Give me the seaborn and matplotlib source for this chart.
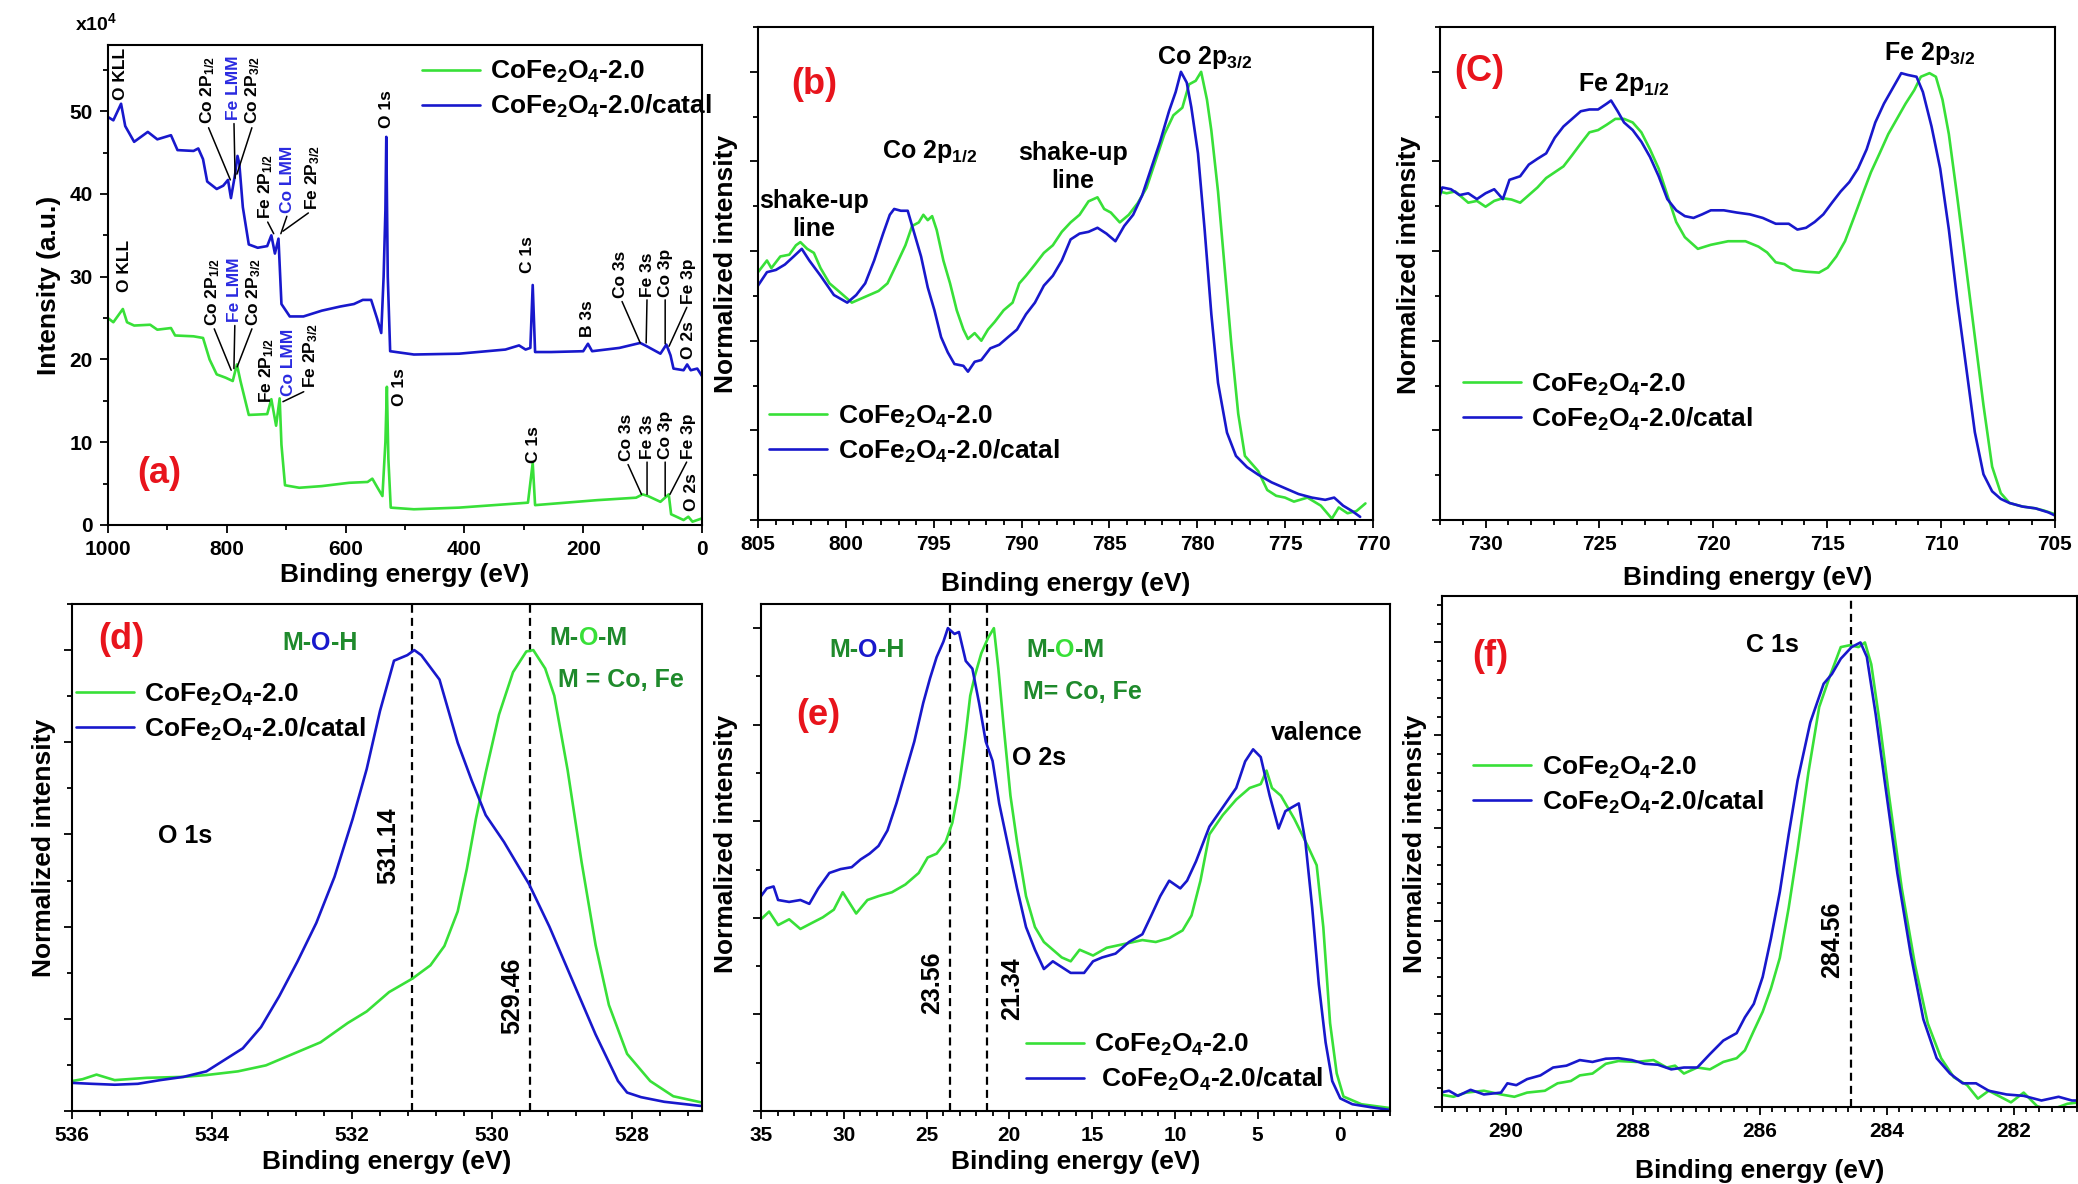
import numpy as np
import pandas as pd
import seaborn as sns
import matplotlib.pyplot as plt
from matplotlib.ticker import MultipleLocator

GREEN = "#38e038"
BLUE = "#1818cc"
BLUE_TXT = "#2a2ae0"
DKGREEN = "#1f8a2c"
RED = "#e8141c"
LAB_FRESH = "CoFe$_2$O$_4$-2.0"
LAB_CATAL = "CoFe$_2$O$_4$-2.0/catal"

# ---- (a) survey spectra, intensity in 1e4 counts
a_be_fresh = [1000, 991, 975, 968, 956, 929, 917, 894, 887, 856, 840, 829, 817, 802, 790, 783, 777,
              763, 732, 725, 717, 711, 708, 702, 678, 640, 594, 563, 555, 547, 538, 533, 530.5, 528,
              524, 485, 409, 331, 293, 285, 281, 177, 111, 100, 91, 70, 56, 52, 31, 23, 16, 0]
a_int_fresh = [25.0, 24.5, 26.1, 24.5, 24.1, 24.2, 23.6, 23.8, 22.9, 22.8, 22.6, 20.0, 18.2, 17.8, 17.4,
               19.4, 17.4, 13.3, 13.4, 15.2, 12.0, 15.3, 9.7, 4.8, 4.5, 4.7, 5.1, 5.2, 5.6, 4.6, 3.5,
               10.0, 16.7, 8.0, 2.1, 1.9, 2.1, 2.5, 2.7, 7.5, 2.4, 3.0, 3.3, 3.7, 3.5, 2.8, 3.7, 1.3,
               0.6, 1.0, 0.4, 0.8]
a_be_catal = [1000, 991, 978, 971, 956, 933, 917, 894, 883, 856, 848, 840, 833, 817, 806, 798, 793,
              786, 782, 779, 773, 763, 748, 732, 725, 719, 713, 708, 694, 671, 640, 609, 586, 571,
              557, 547, 540, 536, 533, 531.5, 529, 525, 485, 409, 331, 308, 297, 289, 285, 281, 254,
              200, 192, 185, 139, 104, 93, 70, 60, 53, 48, 31, 25, 19, 8, 0]
a_int_catal = [49.3, 48.9, 50.9, 48.2, 46.3, 47.5, 46.6, 47.1, 45.3, 45.2, 45.5, 44.2, 41.5, 40.6, 41.0,
               41.7, 39.5, 42.4, 44.6, 43.7, 38.4, 33.9, 33.5, 33.7, 35.0, 32.8, 34.6, 26.7, 25.2, 25.2,
               25.9, 26.4, 26.7, 27.2, 27.2, 24.95, 23.2, 30.0, 38.0, 46.9, 30.0, 21.0, 20.6, 20.7,
               21.2, 21.7, 21.2, 21.4, 29.0, 20.9, 20.9, 21.0, 21.9, 21.0, 21.4, 22.0, 21.6, 20.7,
               21.8, 20.5, 18.9, 18.7, 19.4, 18.7, 18.9, 18.0]

# ---- (b) Co 2p
b_be_fresh = [805.00, 804.49, 804.24, 803.73, 803.22, 802.84, 802.59, 802.20, 801.82, 801.44, 800.93,
              800.42, 799.66, 798.90, 798.14, 797.63, 797.12, 796.61, 796.23, 795.85, 795.59, 795.34,
              795.09, 794.83, 794.45, 794.07, 793.69, 793.31, 793.05, 792.67, 792.29, 791.91, 791.53,
              791.02, 790.51, 790.13, 789.75, 789.24, 788.73, 788.22, 787.71, 787.21, 786.70, 786.19,
              785.68, 785.30, 784.92, 784.41, 783.90, 783.39, 782.89, 782.38, 781.87, 781.36, 780.85,
              780.47, 780.09, 779.78, 779.45, 779.20, 778.82, 778.44, 778.06, 777.67, 777.29, 776.91,
              776.53, 776.02, 775.51, 775.01, 774.50, 773.73, 772.97, 772.34, 771.95, 771.45, 770.94,
              770.43]
b_int_fresh = [0.553, 0.579, 0.562, 0.588, 0.592, 0.613, 0.620, 0.605, 0.596, 0.562, 0.528, 0.511,
               0.485, 0.498, 0.511, 0.528, 0.570, 0.613, 0.656, 0.664, 0.681, 0.669, 0.678, 0.647,
               0.579, 0.528, 0.468, 0.425, 0.404, 0.417, 0.400, 0.425, 0.442, 0.468, 0.485, 0.528,
               0.545, 0.570, 0.596, 0.613, 0.643, 0.664, 0.681, 0.711, 0.720, 0.694, 0.686, 0.664,
               0.681, 0.707, 0.741, 0.801, 0.861, 0.903, 0.920, 0.972, 0.980, 1.000, 0.938, 0.869,
               0.733, 0.562, 0.391, 0.237, 0.143, 0.126, 0.109, 0.067, 0.054, 0.050, 0.041, 0.050,
               0.032, 0.003, 0.028, 0.015, 0.020, 0.037]
b_be_catal = [805.00, 804.49, 803.98, 803.47, 802.97, 802.51, 802.08, 801.44, 800.68, 799.92, 799.41,
              798.90, 798.39, 797.88, 797.50, 797.25, 796.87, 796.48, 796.10, 795.72, 795.34, 794.96,
              794.58, 794.20, 793.82, 793.31, 793.05, 792.67, 792.29, 791.78, 791.27, 790.77, 790.26,
              789.75, 789.24, 788.73, 788.22, 787.71, 787.21, 786.70, 786.19, 785.68, 785.17, 784.66,
              784.16, 783.65, 783.14, 782.63, 782.12, 781.61, 781.23, 780.93, 780.60, 780.34, 779.96,
              779.58, 779.20, 778.82, 778.31, 777.80, 777.17, 776.53, 775.77, 775.01, 774.24, 773.48,
              772.72, 772.21, 771.70, 771.19, 770.73]
b_int_catal = [0.523, 0.553, 0.558, 0.570, 0.588, 0.605, 0.579, 0.545, 0.502, 0.485, 0.502, 0.528,
               0.579, 0.639, 0.681, 0.694, 0.690, 0.690, 0.639, 0.588, 0.519, 0.468, 0.408, 0.374,
               0.348, 0.344, 0.331, 0.353, 0.357, 0.383, 0.391, 0.408, 0.425, 0.459, 0.485, 0.523,
               0.545, 0.579, 0.626, 0.639, 0.643, 0.652, 0.639, 0.622, 0.656, 0.681, 0.724, 0.784,
               0.844, 0.912, 0.955, 1.000, 0.976, 0.921, 0.818, 0.647, 0.459, 0.306, 0.195, 0.143,
               0.118, 0.101, 0.084, 0.071, 0.058, 0.050, 0.045, 0.050, 0.032, 0.020, 0.007]

# ---- (c) Fe 2p
c_be_fresh = [732.03, 731.71, 731.33, 730.76, 730.38, 730.00, 729.62, 729.24, 728.86, 728.48, 728.10,
              727.72, 727.34, 726.96, 726.58, 726.20, 725.82, 725.44, 725.06, 724.68, 724.30, 723.92,
              723.54, 723.16, 722.78, 722.40, 722.02, 721.63, 721.25, 720.68, 720.11, 719.35, 718.59,
              718.02, 717.64, 717.26, 716.88, 716.50, 715.93, 715.36, 714.98, 714.60, 714.22, 713.84,
              713.46, 713.08, 712.70, 712.32, 711.94, 711.56, 711.18, 710.89, 710.51, 710.23, 709.94,
              709.66, 709.28, 708.90, 708.52, 708.14, 707.76, 707.38, 707.00, 706.43, 705.86, 705.48,
              705.00]
c_int_fresh = [0.733, 0.729, 0.733, 0.708, 0.712, 0.699, 0.712, 0.718, 0.715, 0.708, 0.725, 0.742,
               0.763, 0.776, 0.789, 0.814, 0.840, 0.865, 0.870, 0.882, 0.895, 0.895, 0.887, 0.865,
               0.827, 0.784, 0.725, 0.665, 0.631, 0.605, 0.614, 0.622, 0.622, 0.610, 0.597, 0.575,
               0.571, 0.558, 0.554, 0.552, 0.563, 0.588, 0.622, 0.673, 0.725, 0.776, 0.818, 0.861,
               0.895, 0.929, 0.959, 0.989, 0.997, 0.989, 0.938, 0.861, 0.716, 0.563, 0.409, 0.256,
               0.119, 0.060, 0.038, 0.030, 0.026, 0.021, 0.013]
c_be_catal = [732.03, 731.90, 731.52, 731.14, 730.76, 730.38, 730.00, 729.62, 729.24, 728.95, 728.48,
              728.10, 727.72, 727.34, 726.96, 726.58, 726.20, 725.82, 725.44, 725.06, 724.68, 724.49,
              724.20, 723.92, 723.54, 723.16, 722.78, 722.40, 722.02, 721.63, 721.25, 720.87, 720.49,
              720.11, 719.54, 718.97, 718.40, 717.83, 717.26, 716.69, 716.31, 715.93, 715.55, 715.17,
              714.79, 714.41, 714.03, 713.65, 713.27, 712.89, 712.51, 712.13, 711.75, 711.46, 711.08,
              710.80, 710.42, 710.04, 709.66, 709.28, 708.90, 708.52, 708.14, 707.76, 707.38, 707.00,
              706.43, 705.86, 705.29, 705.00]
c_int_catal = [0.720, 0.742, 0.738, 0.725, 0.729, 0.716, 0.729, 0.738, 0.716, 0.759, 0.767, 0.793,
               0.806, 0.818, 0.853, 0.878, 0.895, 0.912, 0.916, 0.916, 0.929, 0.936, 0.912, 0.887,
               0.870, 0.844, 0.810, 0.767, 0.716, 0.691, 0.678, 0.674, 0.682, 0.691, 0.691, 0.686,
               0.682, 0.674, 0.661, 0.661, 0.648, 0.652, 0.665, 0.682, 0.708, 0.733, 0.754, 0.784,
               0.827, 0.887, 0.929, 0.963, 0.997, 0.993, 0.989, 0.955, 0.878, 0.784, 0.648, 0.486,
               0.341, 0.196, 0.102, 0.064, 0.047, 0.038, 0.030, 0.026, 0.017, 0.010]

# ---- (d) O 1s
d_be_fresh = [536.00, 535.85, 535.65, 535.39, 534.93, 534.41, 534.08, 533.63, 533.23, 532.84, 532.45,
              532.06, 531.79, 531.47, 531.14, 530.88, 530.68, 530.49, 530.36, 530.23, 530.09, 529.90,
              529.70, 529.51, 529.41, 529.24, 529.11, 528.92, 528.72, 528.52, 528.33, 528.07, 527.74,
              527.41, 527.02]
d_int_fresh = [0.065, 0.069, 0.079, 0.067, 0.072, 0.074, 0.078, 0.086, 0.099, 0.124, 0.149, 0.191,
               0.216, 0.258, 0.287, 0.316, 0.358, 0.433, 0.525, 0.634, 0.734, 0.860, 0.952, 0.997,
               1.000, 0.960, 0.901, 0.740, 0.540, 0.360, 0.230, 0.124, 0.065, 0.032, 0.019]
d_be_catal = [536.00, 535.72, 535.39, 535.06, 534.74, 534.41, 534.08, 533.82, 533.56, 533.30, 533.04,
              532.78, 532.51, 532.25, 531.99, 531.79, 531.60, 531.40, 531.21, 531.11, 531.01, 530.75,
              530.49, 530.29, 530.09, 529.83, 529.47, 529.18, 528.85, 528.52, 528.20, 528.07, 527.87,
              527.54, 527.02]
d_int_catal = [0.061, 0.059, 0.057, 0.059, 0.067, 0.074, 0.086, 0.111, 0.136, 0.182, 0.249, 0.324,
               0.408, 0.508, 0.634, 0.742, 0.868, 0.977, 0.989, 1.000, 0.989, 0.936, 0.799, 0.717,
               0.642, 0.584, 0.492, 0.400, 0.283, 0.166, 0.065, 0.040, 0.030, 0.020, 0.011]

# ---- (e) O 2s / valence band
e_be_fresh = [35.00, 34.51, 33.97, 33.30, 32.62, 31.95, 31.27, 30.60, 30.06, 29.25, 28.57, 27.90, 27.09,
              26.28, 25.47, 24.93, 24.39, 23.85, 23.44, 23.04, 22.63, 22.36, 22.09, 21.69, 21.28, 20.93,
              20.66, 20.34, 19.93, 19.53, 18.99, 18.45, 17.91, 17.37, 16.83, 16.29, 15.75, 14.94, 14.12,
              13.04, 11.96, 11.15, 10.34, 9.53, 8.99, 8.45, 7.91, 7.10, 6.29, 5.48, 4.81, 4.46, 4.13,
              3.59, 2.78, 1.97, 1.43, 1.03, 0.62, 0.22, -0.19, -1.27, -3.02]
e_int_fresh = [0.397, 0.413, 0.385, 0.397, 0.377, 0.389, 0.401, 0.417, 0.453, 0.409, 0.437, 0.445,
               0.453, 0.469, 0.493, 0.525, 0.533, 0.557, 0.597, 0.669, 0.781, 0.860, 0.900, 0.948,
               0.980, 1.000, 0.916, 0.797, 0.653, 0.557, 0.445, 0.381, 0.350, 0.334, 0.318, 0.310,
               0.334, 0.322, 0.338, 0.346, 0.354, 0.350, 0.358, 0.374, 0.405, 0.477, 0.573, 0.613,
               0.645, 0.669, 0.677, 0.705, 0.669, 0.653, 0.605, 0.549, 0.509, 0.381, 0.182, 0.078,
               0.030, 0.014, 0.006]
e_be_catal = [35.00, 34.65, 34.24, 33.97, 33.30, 32.62, 32.08, 31.54, 30.87, 30.19, 29.52, 28.98, 28.44,
              27.90, 27.36, 26.82, 26.28, 25.74, 25.20, 24.79, 24.39, 23.98, 23.71, 23.31, 23.04, 22.63,
              22.23, 21.82, 21.42, 21.01, 20.61, 20.07, 19.53, 18.99, 18.45, 17.91, 17.37, 16.83, 16.29,
              15.48, 14.94, 14.39, 13.58, 12.77, 11.96, 11.42, 10.88, 10.34, 9.67, 9.26, 8.72, 7.91,
              7.10, 6.29, 5.75, 5.27, 4.81, 4.27, 3.73, 3.32, 2.92, 2.51, 2.11, 1.70, 1.30, 0.89, 0.49,
              0.00, -0.73, -1.81, -3.02]
e_int_catal = [0.445, 0.461, 0.465, 0.437, 0.433, 0.437, 0.429, 0.461, 0.493, 0.501, 0.505, 0.521,
               0.533, 0.549, 0.581, 0.637, 0.701, 0.765, 0.845, 0.896, 0.940, 0.972, 1.000, 0.988,
               0.992, 0.932, 0.916, 0.844, 0.765, 0.725, 0.637, 0.549, 0.461, 0.381, 0.334, 0.294,
               0.310, 0.298, 0.286, 0.286, 0.310, 0.318, 0.326, 0.350, 0.366, 0.405, 0.445, 0.477,
               0.461, 0.477, 0.517, 0.589, 0.629, 0.669, 0.724, 0.749, 0.733, 0.653, 0.585, 0.621,
               0.629, 0.637, 0.557, 0.421, 0.262, 0.142, 0.062, 0.026, 0.014, 0.008, 0.002]

# ---- (f) C 1s
f_be_fresh = [291.03, 290.82, 290.62, 290.34, 290.07, 289.86, 289.66, 289.38, 289.18, 288.97, 288.83,
              288.63, 288.42, 288.22, 287.94, 287.67, 287.46, 287.33, 287.19, 286.98, 286.78, 286.57,
              286.36, 286.23, 286.09, 285.95, 285.82, 285.68, 285.54, 285.40, 285.23, 285.06, 284.89,
              284.72, 284.58, 284.44, 284.34, 284.24, 284.10, 283.96, 283.76, 283.55, 283.35, 283.14,
              282.94, 282.73, 282.56, 282.39, 282.04, 281.84, 281.63, 281.43, 281.15, 280.96]
f_int_fresh = [0.027, 0.022, 0.031, 0.035, 0.027, 0.022, 0.031, 0.035, 0.051, 0.056, 0.068, 0.072,
               0.093, 0.099, 0.097, 0.101, 0.085, 0.089, 0.072, 0.085, 0.081, 0.097, 0.105, 0.122,
               0.164, 0.205, 0.255, 0.321, 0.429, 0.554, 0.720, 0.861, 0.928, 0.990, 0.994, 0.990,
               1.000, 0.953, 0.820, 0.670, 0.471, 0.305, 0.180, 0.105, 0.064, 0.047, 0.018, 0.035,
               0.010, 0.031, 0.002, -0.007, 0.007, 0.010]
f_be_catal = [291.03, 290.89, 290.75, 290.55, 290.34, 290.07, 289.97, 289.83, 289.66, 289.45, 289.25,
              289.04, 288.83, 288.63, 288.42, 288.22, 288.01, 287.81, 287.60, 287.39, 287.19, 286.98,
              286.78, 286.57, 286.36, 286.23, 286.09, 285.95, 285.82, 285.68, 285.54, 285.40, 285.20,
              284.99, 284.86, 284.72, 284.55, 284.41, 284.31, 284.17, 284.03, 283.83, 283.62, 283.42,
              283.21, 283.00, 282.80, 282.59, 282.39, 282.11, 281.84, 281.56, 281.29, 281.08, 280.96]
f_int_catal = [0.031, 0.035, 0.024, 0.037, 0.027, 0.031, 0.051, 0.047, 0.060, 0.068, 0.085, 0.089,
               0.101, 0.097, 0.104, 0.105, 0.101, 0.093, 0.091, 0.081, 0.085, 0.085, 0.114, 0.143,
               0.159, 0.193, 0.222, 0.280, 0.363, 0.463, 0.587, 0.703, 0.828, 0.911, 0.932, 0.965,
               0.990, 1.000, 0.969, 0.845, 0.703, 0.504, 0.330, 0.189, 0.105, 0.072, 0.051, 0.051,
               0.035, 0.027, 0.024, 0.014, 0.022, 0.014, 0.014]

# peak labels of the survey: (text, x, y of text bottom, leader end x, leader end y, colour)
a_labels_catal = [
    ("O KLL", 979, 51.3, None, None, "k"),
    ("Co 2P$_{1/2}$", 833, 48.4, 794, 41.7, "k"),
    ("Fe LMM", 788, 48.9, 786, 41.9, BLUE_TXT),
    ("Co 2P$_{3/2}$", 756, 48.4, 783, 42.4, "k"),
    ("Fe 2P$_{1/2}$", 734, 37.0, 721, 35.2, "k"),
    ("Co LMM", 697, 37.7, 709, 35.2, BLUE_TXT),
    ("Fe 2P$_{3/2}$", 655, 38.1, 705.5, 35.5, "k"),
    ("O 1s", 530.5, 48.0, None, None, "k"),
    ("C 1s", 293, 30.4, None, None, "k"),
    ("B 3s", 193, 22.7, None, None, "k"),
    ("Co 3s", 137, 27.4, 104, 22.0, "k"),
    ("Fe 3s", 92.5, 27.6, 94, 22.0, "k"),
    ("Co 3p", 62, 27.6, 62, 21.9, "k"),
    ("Fe 3p", 23, 26.7, 55.5, 21.6, "k"),
    ("O 2s", 23, 20.0, None, None, "k"),
]
a_labels_fresh = [
    ("O KLL", 973, 28.1, None, None, "k"),
    ("Co 2P$_{1/2}$", 823.4, 24.1, 792.6, 18.7, "k"),
    ("Fe LMM", 786.4, 24.5, 788, 18.9, BLUE_TXT),
    ("Co 2P$_{3/2}$", 755.6, 24.1, 782.6, 19.1, "k"),
    ("Fe 2P$_{1/2}$", 732.5, 14.7, None, None, "k"),
    ("Co LMM", 695.5, 15.6, None, None, BLUE_TXT),
    ("Fe 2P$_{3/2}$", 659, 16.5, 705.5, 14.9, "k"),
    ("O 1s", 509, 14.4, None, None, "k"),
    ("C 1s", 283, 7.5, None, None, "k"),
    ("Co 3s", 127, 7.7, 101.8, 3.7, "k"),
    ("Fe 3s", 92.5, 8.0, 92.5, 3.7, "k"),
    ("Co 3p", 62, 8.0, 62, 3.5, "k"),
    ("Fe 3p", 23, 8.0, 54, 3.7, "k"),
    ("O 2s", 17.7, 1.7, None, None, "k"),
]

d_peaks = [531.14, 529.46]
e_peaks = [23.56, 21.34]
f_peaks = [284.56]


sns.set_style("ticks", {"axes.edgecolor": "black", "xtick.color": "black", "ytick.color": "black",
                        "text.color": "black", "axes.labelcolor": "black"})
plt.rcParams["font.family"] = ["Liberation Sans", "DejaVu Sans"]
plt.rcParams["font.weight"] = "bold"
plt.rcParams["axes.labelweight"] = "bold"
plt.rcParams["mathtext.fontset"] = "custom"
plt.rcParams["mathtext.rm"] = "Liberation Sans:bold"
plt.rcParams["mathtext.it"] = "Liberation Sans:bold"
plt.rcParams["mathtext.bf"] = "Liberation Sans:bold"
plt.rcParams["mathtext.default"] = "rm"

W, H = 2078, 1184
fig = plt.figure(figsize=(W / 100, H / 100), dpi=100)


def make_axes(left, top, right, bottom):
    return fig.add_axes([left / W, 1 - bottom / H, (right - left) / W, (bottom - top) / H])


def plot_pair(ax, be_f, int_f, be_c, int_c):
    df = pd.concat([
        pd.DataFrame({"be": be_f, "intensity": int_f, "sample": LAB_FRESH}),
        pd.DataFrame({"be": be_c, "intensity": int_c, "sample": LAB_CATAL}),
    ])
    sns.lineplot(data=df, x="be", y="intensity", hue="sample", palette=[GREEN, BLUE],
                 estimator=None, linewidth=1.9, ax=ax)


def style(ax, xlim, ylim, xmaj, xmin, ymaj, ymin, ylabel, ylab_pos, xlab_y, ylabels=False):
    ax.set_xlim(*xlim)
    ax.set_ylim(*ylim)
    ax.xaxis.set_major_locator(MultipleLocator(xmaj))
    ax.xaxis.set_minor_locator(MultipleLocator(xmin))
    ax.yaxis.set_major_locator(MultipleLocator(ymaj))
    ax.yaxis.set_minor_locator(MultipleLocator(ymin))
    ax.tick_params(which="both", direction="out", top=False, right=False, width=1.3,
                   labelsize=15)
    ax.tick_params(which="major", length=6, pad=5)
    ax.tick_params(which="minor", length=3.5)
    if not ylabels:
        ax.tick_params(axis="y", labelleft=False)
    for s in ax.spines.values():
        s.set_linewidth(1.5)
        s.set_color("black")
    ax.set_xlabel("Binding energy (eV)", fontsize=19)
    ax.set_ylabel(ylabel, fontsize=19)
    ax.xaxis.set_label_coords(0.5, xlab_y)
    ax.xaxis.label.set_va("center")
    ax.yaxis.set_label_coords(*ylab_pos)
    ax.yaxis.label.set_va("center")


def legend(ax, x, y, labels=(LAB_FRESH, LAB_CATAL)):
    handles, _ = ax.get_legend_handles_labels()
    leg = ax.legend(handles, list(labels), loc="center left", bbox_to_anchor=(x, y),
                    frameon=False, fontsize=19, handlelength=2.2, handletextpad=0.4,
                    borderpad=0, borderaxespad=0, labelspacing=0.3)
    for ln in leg.get_lines():
        ln.set_linewidth(1.9)
    return leg


def note(ax, x, y, s, size=18, color="k", **kw):
    ax.text(x, y, s, fontsize=size, color=color, fontweight="bold", ha=kw.pop("ha", "center"),
            va=kw.pop("va", "center"), **kw)


def rainbow(ax, x, y, parts, size=18):
    t = ax.text(x, y, parts[0][0], color=parts[0][1], fontsize=size, fontweight="bold",
                ha="left", va="bottom")
    for s, c in parts[1:]:
        t = ax.annotate(s, xy=(1, 0), xycoords=t, ha="left", va="bottom", color=c,
                        fontsize=size, fontweight="bold")


def dashes(ax, xs):
    for x in xs:
        ax.axvline(x, color="black", lw=1.6, ls=(0, (3.6, 2.3)), zorder=1)


# ---------------- (a)
ax = make_axes(108, 45, 702, 525)
plot_pair(ax, a_be_fresh, a_int_fresh, a_be_catal, a_int_catal)
style(ax, (1000, 0), (0, 58), 200, 100, 10, 5, "Intensity (a.u.)", (-0.099, 0.5), -0.104,
      ylabels=True)
legend(ax, 0.528, 0.907)
ax.text(-0.055, 1.03, "x10$^4$", transform=ax.transAxes, fontsize=14, fontweight="bold",
        va="baseline", ha="left")
note(ax, 913.6, 6.2, "(a)", size=26, color=RED)
for txt, tx, ty, lx, ly, col in a_labels_catal + a_labels_fresh:
    if lx is None:
        ax.text(tx, ty, txt, rotation=90, ha="center", va="bottom", fontsize=12.5,
                fontweight="bold", color=col)
    else:
        ax.annotate(txt, xy=(lx, ly), xytext=(tx, ty), rotation=90, ha="center", va="bottom",
                    fontsize=12.5, fontweight="bold", color=col,
                    arrowprops=dict(arrowstyle="-", color="black", lw=1.1, shrinkA=0,
                                    shrinkB=0, relpos=(0.5, 0)))

# ---------------- (b)
ax = make_axes(758, 27, 1373, 520)
plot_pair(ax, b_be_fresh, b_int_fresh, b_be_catal, b_int_catal)
style(ax, (805, 770), (0, 1.1), 5, 1, 0.2, 0.1, "Normalized intensity", (-0.052, 0.52), -0.13)
legend(ax, 0.018, 0.174)
note(ax, 801.82, 0.972, "(b)", size=26, color=RED)
note(ax, 801.82, 0.681, "shake-up\nline")
note(ax, 795.21, 0.822, "Co 2p$_{1/2}$")
note(ax, 787.08, 0.788, "shake-up\nline")
note(ax, 779.58, 1.032, "Co 2p$_{3/2}$")

# ---------------- (c)
ax = make_axes(1440, 27, 2055, 520)
plot_pair(ax, c_be_fresh, c_int_fresh, c_be_catal, c_int_catal)
style(ax, (732, 705), (0, 1.1), 5, 1, 0.2, 0.1, "Normalized intensity", (-0.05, 0.517), -0.118)
legend(ax, 0.037, 0.239)
note(ax, 730.29, 1.0, "(C)", size=26, color=RED)
note(ax, 723.92, 0.972, "Fe 2p$_{1/2}$")
note(ax, 710.51, 1.04, "Fe 2p$_{3/2}$")

# ---------------- (d)
ax = make_axes(72, 604, 702, 1111)
dashes(ax, d_peaks)
plot_pair(ax, d_be_fresh, d_int_fresh, d_be_catal, d_int_catal)
style(ax, (536, 527), (0, 1.1), 2, 0.4, 0.2, 0.1, "Normalized intensity", (-0.044, 0.519), -0.10)
legend(ax, 0.006, 0.787)
note(ax, 535.29, 1.023, "(d)", size=26, color=RED)
note(ax, 534.38, 0.596, "O 1s")
note(ax, 531.48, 0.575, "531.14", rotation=90)
note(ax, 529.71, 0.249, "529.46", rotation=90)
rainbow(ax, 533.0, 0.99, [("M-", DKGREEN), ("O", BLUE), ("-H", DKGREEN)])
rainbow(ax, 529.18, 1.0, [("M-", DKGREEN), ("O", GREEN), ("-M", DKGREEN)])
note(ax, 529.06, 0.935, "M = Co, Fe", color=DKGREEN, ha="left")

# ---------------- (e)
ax = make_axes(761, 604, 1390, 1111)
dashes(ax, e_peaks)
plot_pair(ax, e_be_fresh, e_int_fresh, e_be_catal, e_int_catal)
style(ax, (35, -3), (0, 1.05), 5, 1, 0.2, 0.1, "Normalized intensity", (-0.056, 0.527), -0.10)
legend(ax, 0.421, 0.095, labels=(LAB_FRESH, " " + LAB_CATAL))
note(ax, 31.54, 0.82, "(e)", size=26, color=RED)
note(ax, 18.18, 0.731, "O 2s")
note(ax, 1.43, 0.782, "valence")
note(ax, 24.66, 0.266, "23.56", rotation=90)
note(ax, 19.85, 0.254, "21.34", rotation=90)
rainbow(ax, 30.87, 0.93, [("M-", DKGREEN), ("O", BLUE), ("-H", DKGREEN)])
rainbow(ax, 18.99, 0.93, [("M-", DKGREEN), ("O", GREEN), ("-M", DKGREEN)])
note(ax, 19.2, 0.868, "M= Co, Fe", color=DKGREEN, ha="left")

# ---------------- (f)
ax = make_axes(1442, 596, 2077, 1107)
dashes(ax, f_peaks)
plot_pair(ax, f_be_fresh, f_int_fresh, f_be_catal, f_int_catal)
style(ax, (291, 281), (0, 1.1), 2, 0.2, 0.2, 0.04, "Normalized intensity", (-0.043, 0.515),
      -0.125)
legend(ax, 0.049, 0.63)
note(ax, 290.24, 0.969, "(f)", size=26, color=RED)
note(ax, 285.80, 0.994, "C 1s")
note(ax, 284.86, 0.359, "284.56", rotation=90)

fig.savefig("out.png", dpi=100)
